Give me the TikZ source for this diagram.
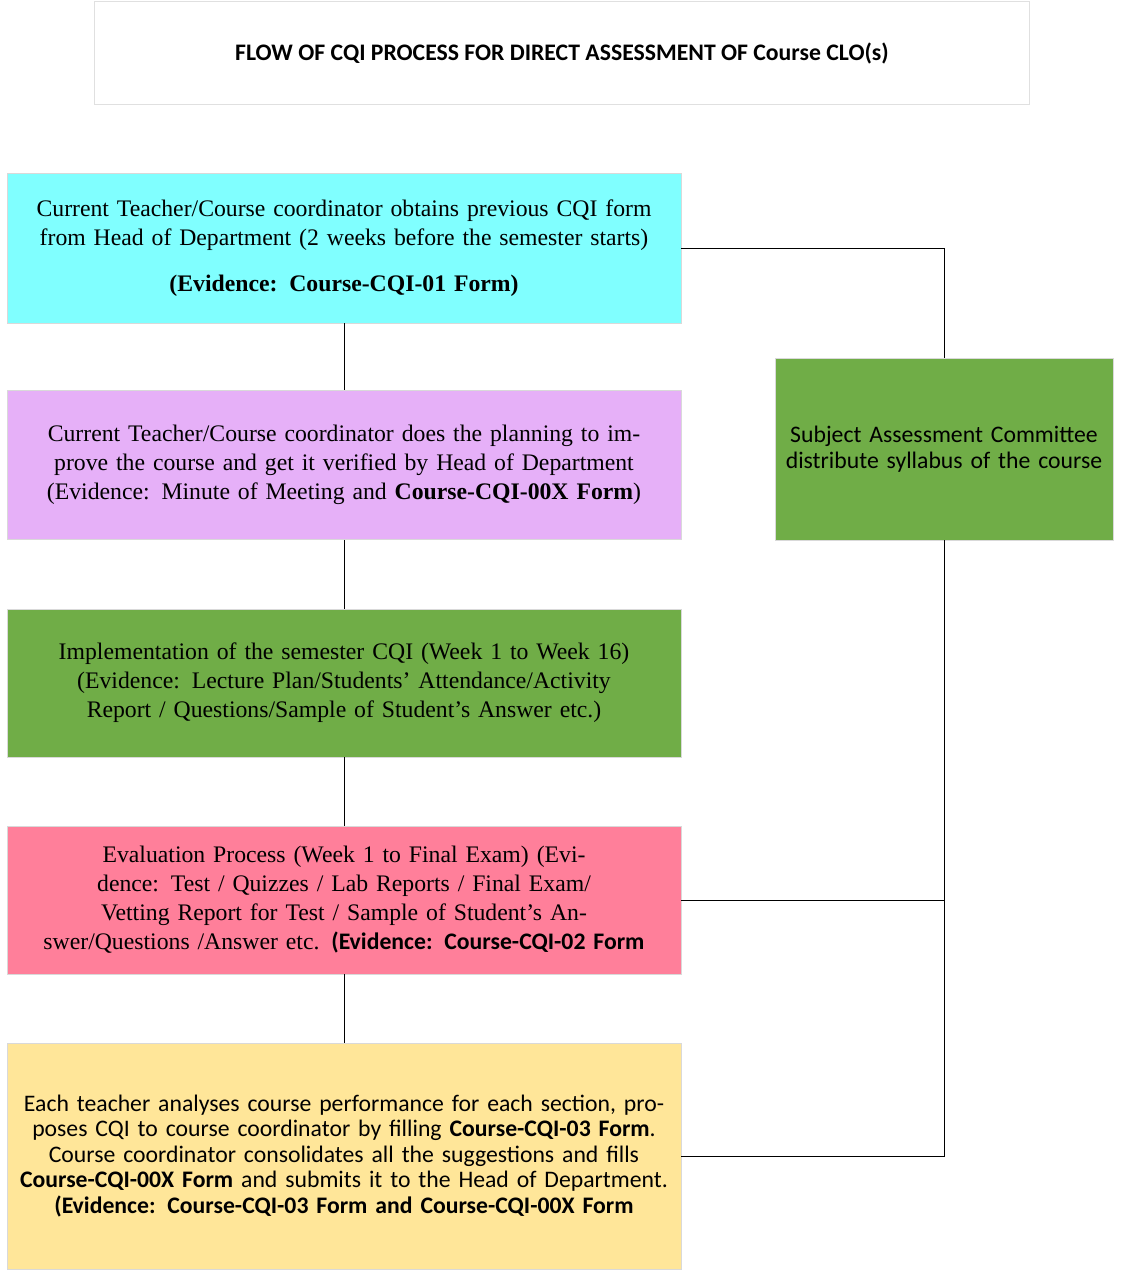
\documentclass[tikz,border=0pt]{standalone}
\usepackage{fontspec}
\setmainfont{Liberation Serif}
\newfontfamily\carl{Carlito}
\definecolor{cqicyan}{HTML}{80FFFF}
\definecolor{cqiviolet}{HTML}{E6B0F8}
\definecolor{cqigreen}{HTML}{70AD47}
\definecolor{cqipink}{HTML}{FF7F9A}
\definecolor{cqiyellow}{HTML}{FFE699}
\tikzset{
  stepbox/.style={draw=black!15,minimum width=13.48cm,text width=13.1cm,align=center,
    font=\fontsize{13.5}{16.5}\selectfont},
  link/.style={thin,black}
}
\begin{document}
\begin{tikzpicture}[x=0.02cm,y=-0.02cm]
  \useasboundingbox (0,0) rectangle (1123,1281);
  \node[draw=black!12,minimum width=18.7cm,minimum height=2.06cm,
    font=\carl\bfseries\fontsize{13.5}{16}\selectfont] (title) at (562,53)
    {FLOW OF CQI PROCESS FOR DIRECT ASSESSMENT OF Course CLO(s)};
  \node[stepbox,fill=cqicyan,minimum height=3cm] (plan0) at (344,248)
    {Current Teacher/Course coordinator obtains previous CQI form from Head of Department (2 weeks before the semester starts)\\[10pt]
     \textbf{(Evidence: Course-CQI-01 Form)}};
  \node[stepbox,fill=cqiviolet,minimum height=2.98cm] (plan1) at (344,465)
    {Current Teacher/Course coordinator does the planning to improve the course and get it verified by Head of Department (Evidence: Minute of Meeting and \textbf{Course-CQI-00X Form})};
  \node[stepbox,fill=cqigreen,minimum height=2.96cm] (impl) at (344,683)
    {Implementation of the semester CQI (Week 1 to Week 16) (Evidence: Lecture Plan/Students' Attendance/Activity Report / Questions/Sample of Student's Answer etc.)};
  \node[stepbox,fill=cqipink,minimum height=2.96cm] (eval) at (344,900)
    {Evaluation Process (Week 1 to Final Exam) (Evidence: Test / Quizzes / Lab Reports / Final Exam/ Vetting Report for Test / Sample of Student's Answer/Questions /Answer etc. {\carl\bfseries (Evidence: Course-CQI-02 Form}};
  \node[stepbox,fill=cqiyellow,minimum height=4.52cm,font=\carl\fontsize{13.5}{14.5}\selectfont] (anal) at (344,1156)
    {Each teacher analyses course performance for each section, proposes CQI to course coordinator by filling \textbf{Course-CQI-03 Form}. Course coordinator consolidates all the suggestions and fills \textbf{Course-CQI-00X Form} and submits it to the Head of Department. \textbf{(Evidence: Course-CQI-03 Form and Course-CQI-00X Form}};
  \node[draw=black!15,fill=cqigreen,minimum width=6.76cm,minimum height=3.64cm,text width=6.5cm,
    align=center,font=\carl\fontsize{13.5}{14.5}\selectfont] (sac) at (944,449)
    {Subject Assessment Committee distribute syllabus of the course\\[10pt]};
  % connectors
  \draw[link] (plan0) -- (plan1);
  \draw[link] (plan1) -- (impl);
  \draw[link] (impl) -- (eval);
  \draw[link] (eval) -- (anal);
  \draw[link] (plan0.east) -| (sac.north);
  \draw[link] (sac.south) |- (anal.east);
  \draw[link] (eval.east) -- (sac.south |- eval.east);
\end{tikzpicture}
\end{document}
